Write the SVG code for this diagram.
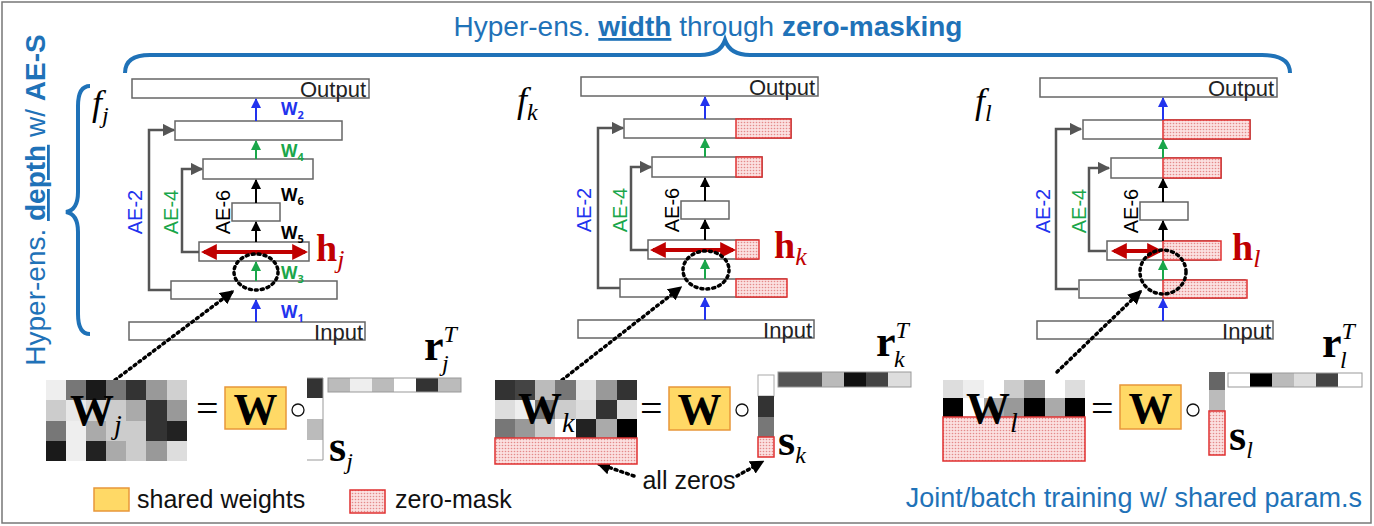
<svg xmlns="http://www.w3.org/2000/svg" width="1374" height="526" viewBox="0 0 1374 526">
<defs>
<pattern id="dots" width="3" height="3" patternUnits="userSpaceOnUse"><rect width="3" height="3" fill="#fbe0e0"/><circle cx="1.5" cy="1.5" r="0.8" fill="#e48a8a"/></pattern>
<marker id="ab" viewBox="0 0 10 10" refX="9" refY="5" markerWidth="5" markerHeight="5" orient="auto-start-reverse"><path d="M0,0L10,5L0,10z" fill="#2233ee"/></marker>
<marker id="ag" viewBox="0 0 10 10" refX="9" refY="5" markerWidth="5" markerHeight="5" orient="auto-start-reverse"><path d="M0,0L10,5L0,10z" fill="#1aa64a"/></marker>
<marker id="ak" viewBox="0 0 10 10" refX="9" refY="5" markerWidth="5" markerHeight="5" orient="auto-start-reverse"><path d="M0,0L10,5L0,10z" fill="#000"/></marker>
<marker id="agr" viewBox="0 0 10 10" refX="9" refY="5" markerWidth="5" markerHeight="5" orient="auto-start-reverse"><path d="M0,0L10,5L0,10z" fill="#555"/></marker>
<marker id="ar" viewBox="0 0 10 10" refX="8" refY="5" markerWidth="4" markerHeight="4" orient="auto-start-reverse"><path d="M0,0L10,5L0,10z" fill="#c00000"/></marker>
<marker id="ad" viewBox="0 0 10 10" refX="8" refY="5" markerWidth="4" markerHeight="4" orient="auto-start-reverse"><path d="M0,0L10,5L0,10z" fill="#000"/></marker>
</defs>
<style>
.ly{fill:#fff;stroke:#666;stroke-width:1.5}
.mk{fill:url(#dots);stroke:#e03030;stroke-width:1.5}
.lt{font-family:"Liberation Sans",Arial,sans-serif;font-size:22px;fill:#222;text-anchor:end}
.wl{font-family:"Open Sans",sans-serif;font-weight:bold;font-size:17px}
.ae{font-family:"Liberation Sans",Arial,sans-serif;font-size:20px}
.fn{font-family:"Liberation Serif",serif;font-style:italic;font-size:36px}
.hb{font-family:"Liberation Serif",serif;font-weight:bold;font-size:38px;fill:#c00000}
.mb{font-family:"Liberation Serif",serif;font-weight:bold;font-size:44px}
.it{font-style:italic;font-weight:normal}
.sk{stroke:#555;stroke-width:2.5;fill:none}
.dt{stroke:#000;stroke-width:3.5;stroke-dasharray:2,4;fill:none;stroke-linecap:round}
.bl{font-family:"Liberation Sans",Arial,sans-serif;fill:#1f72b8}
.yb{fill:#ffd966;stroke:#e8973a;stroke-width:1.5}
.tx{font-family:"Liberation Sans",Arial,sans-serif;font-size:25px;fill:#111}
</style>
<rect x="2" y="2" width="1369" height="521" fill="#fff" stroke="#777" stroke-width="1.5"/>

<g id="title">
<text class="bl" x="708" y="36" font-size="28" text-anchor="middle">Hyper-ens. <tspan font-weight="bold" text-decoration="underline">width</tspan> through <tspan font-weight="bold">zero-masking</tspan></text>
<path d="M125,73 Q125,55 150,55 L700,55 Q720,55 725,40 Q730,55 750,55 L1262,55 Q1290,55 1290,73" fill="none" stroke="#1f72b8" stroke-width="4"/>
<text class="bl" transform="translate(45,200) rotate(-90)" font-size="28" text-anchor="middle">Hyper-ens. <tspan font-weight="bold" text-decoration="underline">depth</tspan> w/ <tspan font-weight="bold">AE-S</tspan></text>
<path d="M90,86 Q78,86 78,106 L78,192 Q78,210 66,212 Q78,214 78,232 L78,314 Q78,334 90,334" fill="none" stroke="#1f72b8" stroke-width="4"/>
</g>

<g id="net-j">
<rect class="ly" x="132" y="79" width="237" height="19"/><text class="lt" x="366" y="97">Output</text>
<rect class="ly" x="175" y="121" width="167" height="19"/>
<rect class="ly" x="203" y="159" width="110" height="20"/>
<rect class="ly" x="232" y="203" width="48" height="18"/>
<rect class="ly" x="199" y="242" width="110" height="19"/>
<rect class="ly" x="171" y="281" width="166" height="18"/>
<rect class="ly" x="129" y="322" width="236" height="18"/><text class="lt" x="363" y="340">Input</text>
</g>
<g id="net-k" transform="translate(449,-2)">
<rect class="ly" x="132" y="79" width="237" height="19"/><text class="lt" x="366" y="97">Output</text>
<rect class="ly" x="175" y="121" width="167" height="19"/><rect class="mk" x="287" y="121" width="55" height="19"/>
<rect class="ly" x="203" y="159" width="110" height="20"/><rect class="mk" x="287" y="159" width="26" height="20"/>
<rect class="ly" x="232" y="203" width="48" height="18"/>
<rect class="ly" x="199" y="242" width="110" height="19"/><rect class="mk" x="287" y="242" width="23" height="19"/>
<rect class="ly" x="171" y="281" width="166" height="18"/><rect class="mk" x="287" y="281" width="51" height="18"/>
<rect class="ly" x="129" y="322" width="236" height="18"/><text class="lt" x="363" y="340">Input</text>
</g>
<g id="net-l" transform="translate(908,-1)">
<rect class="ly" x="132" y="79" width="237" height="19"/><text class="lt" x="366" y="97">Output</text>
<rect class="ly" x="175" y="121" width="167" height="19"/><rect class="mk" x="255" y="121" width="87" height="19"/>
<rect class="ly" x="203" y="159" width="110" height="20"/><rect class="mk" x="255" y="159" width="58" height="20"/>
<rect class="ly" x="232" y="203" width="48" height="18"/>
<rect class="ly" x="199" y="242" width="110" height="19"/><rect class="mk" x="255" y="242" width="58" height="19"/>
<rect class="ly" x="171" y="281" width="166" height="18"/><rect class="mk" x="255" y="281" width="84" height="18"/>
<rect class="ly" x="129" y="322" width="236" height="18"/><text class="lt" x="363" y="340">Input</text>
</g>

<g id="labels">
<text class="fn" x="92" y="115">f<tspan font-size="24" dy="8">j</tspan></text>
<text class="fn" x="517" y="112">f<tspan font-size="24" dy="8">k</tspan></text>
<text class="fn" x="975" y="113">f<tspan font-size="24" dy="8">l</tspan></text>
<text class="wl" x="281" y="115" fill="#2233ee">W<tspan font-size="11" dy="4">2</tspan></text>
<text class="wl" x="281" y="157" fill="#1aa64a">W<tspan font-size="11" dy="4">4</tspan></text>
<text class="wl" x="281" y="201" fill="#000">W<tspan font-size="11" dy="4">6</tspan></text>
<text class="wl" x="281" y="239" fill="#000">W<tspan font-size="11" dy="4">5</tspan></text>
<text class="wl" x="281" y="279" fill="#1aa64a">W<tspan font-size="11" dy="4">3</tspan></text>
<text class="wl" x="281" y="318" fill="#2233ee">W<tspan font-size="11" dy="4">1</tspan></text>
<text class="hb" x="316" y="261">h<tspan class="it" font-size="26" dy="7">j</tspan></text>
<text class="hb" x="774" y="258">h<tspan class="it" font-size="26" dy="7">k</tspan></text>
<text class="hb" x="1232" y="260">h<tspan class="it" font-size="26" dy="7">l</tspan></text>
<g class="ae">
<text transform="translate(142,212) rotate(-90)" text-anchor="middle" fill="#2233ee">AE-2</text>
<text transform="translate(178,212) rotate(-90)" text-anchor="middle" fill="#1aa64a">AE-4</text>
<text transform="translate(230,212) rotate(-90)" text-anchor="middle" fill="#000">AE-6</text>
<text transform="translate(591,210) rotate(-90)" text-anchor="middle" fill="#2233ee">AE-2</text>
<text transform="translate(627,210) rotate(-90)" text-anchor="middle" fill="#1aa64a">AE-4</text>
<text transform="translate(679,210) rotate(-90)" text-anchor="middle" fill="#000">AE-6</text>
<text transform="translate(1050,211) rotate(-90)" text-anchor="middle" fill="#2233ee">AE-2</text>
<text transform="translate(1086,211) rotate(-90)" text-anchor="middle" fill="#1aa64a">AE-4</text>
<text transform="translate(1138,211) rotate(-90)" text-anchor="middle" fill="#000">AE-6</text>
</g>
</g>

<g id="connectors">
<g id="cj">
<line x1="256" y1="322" x2="256" y2="300" stroke="#2233ee" stroke-width="2" marker-end="url(#ab)"/>
<line x1="256" y1="281" x2="256" y2="262" stroke="#1aa64a" stroke-width="2" marker-end="url(#ag)"/>
<line x1="256" y1="242" x2="256" y2="222" stroke="#000" stroke-width="2" marker-end="url(#ak)"/>
<line x1="256" y1="203" x2="256" y2="180" stroke="#000" stroke-width="2" marker-end="url(#ak)"/>
<line x1="256" y1="159" x2="256" y2="141" stroke="#1aa64a" stroke-width="2" marker-end="url(#ag)"/>
<line x1="256" y1="121" x2="256" y2="99" stroke="#2233ee" stroke-width="2" marker-end="url(#ab)"/>
<path class="sk" d="M171,290 H149 V130 H174" marker-end="url(#agr)"/>
<path class="sk" d="M199,252 H182 V169 H202" marker-end="url(#agr)"/>
</g>
<use href="#cj" transform="translate(449,-2)"/>
<use href="#cj" transform="translate(907,-1)"/>
<line x1="204" y1="252" x2="305" y2="252" stroke="#c00000" stroke-width="4" marker-start="url(#ar)" marker-end="url(#ar)"/>
<line x1="653" y1="250" x2="733" y2="250" stroke="#c00000" stroke-width="4" marker-start="url(#ar)" marker-end="url(#ar)"/>
<line x1="1114" y1="251" x2="1160" y2="251" stroke="#c00000" stroke-width="4" marker-start="url(#ar)" marker-end="url(#ar)"/>
<ellipse class="dt" cx="256" cy="272" rx="22" ry="18"/>
<ellipse class="dt" cx="706" cy="270" rx="23" ry="19"/>
<ellipse class="dt" cx="1163" cy="272" rx="23" ry="22"/>
<path class="dt" d="M115,380 L232,292" marker-end="url(#ad)"/>
<path class="dt" d="M562,380 L680,288" marker-end="url(#ad)"/>
<path class="dt" d="M1057,372 L1140,292" marker-end="url(#ad)"/>
<path class="dt" d="M634,476 L599,464" marker-end="url(#ad)"/>
<path class="dt" d="M737,476 L762,462" marker-end="url(#ad)"/>
</g>

<g id="eq-j">
<rect x="46" y="380" width="20" height="20" fill="#eee"/><rect x="66" y="380" width="20" height="20" fill="#777"/><rect x="86" y="380" width="20" height="20" fill="#1a1a1a"/><rect x="106" y="380" width="20" height="20" fill="#777"/><rect x="126" y="380" width="20" height="20" fill="#333"/><rect x="146" y="380" width="21" height="20" fill="#999"/><rect x="167" y="380" width="20" height="20" fill="#d0d0d0"/>
<rect x="46" y="400" width="20" height="21" fill="#ccc"/><rect x="66" y="400" width="20" height="21" fill="#e8e8e8"/><rect x="86" y="400" width="20" height="21" fill="#d4d4d4"/><rect x="106" y="400" width="20" height="21" fill="#ccc"/><rect x="126" y="400" width="20" height="21" fill="#aaa"/><rect x="146" y="400" width="21" height="21" fill="#333"/><rect x="167" y="400" width="20" height="21" fill="#999"/>
<rect x="46" y="421" width="20" height="20" fill="#777"/><rect x="66" y="421" width="20" height="20" fill="#eee"/><rect x="86" y="421" width="20" height="20" fill="#aaa"/><rect x="106" y="421" width="20" height="20" fill="#ccc"/><rect x="126" y="421" width="20" height="20" fill="#ccc"/><rect x="146" y="421" width="21" height="20" fill="#333"/><rect x="167" y="421" width="20" height="20" fill="#222"/>
<rect x="46" y="441" width="20" height="20" fill="#1a1a1a"/><rect x="66" y="441" width="20" height="20" fill="#eee"/><rect x="86" y="441" width="20" height="20" fill="#222"/><rect x="106" y="441" width="20" height="20" fill="#aaa"/><rect x="126" y="441" width="20" height="20" fill="#ccc"/><rect x="146" y="441" width="21" height="20" fill="#999"/><rect x="167" y="441" width="20" height="20" fill="#ddd"/>
<text class="mb" x="70" y="425">W<tspan class="it" font-size="28" dy="9">j</tspan></text>
<text x="196" y="422" font-family="Liberation Serif,serif" font-size="40">=</text>
<rect class="yb" x="225" y="387" width="61" height="42"/><text class="mb" x="255.5" y="424" text-anchor="middle">W</text>
<circle cx="298" cy="410" r="6" fill="none" stroke="#111" stroke-width="1.3"/>
<rect x="307" y="378" width="16" height="20" fill="#333"/><rect x="307" y="398" width="16" height="21" fill="#fff"/><rect x="307" y="419" width="16" height="21" fill="#bbb"/><rect x="307" y="440" width="16" height="20" fill="#fff"/>
<path d="M307,378 H323 V460 H307" fill="none" stroke="#999" stroke-width="1"/>
<rect x="328" y="378" width="22" height="14" fill="#bbb"/><rect x="350" y="378" width="22" height="14" fill="#eee"/><rect x="372" y="378" width="22" height="14" fill="#bbb"/><rect x="394" y="378" width="22" height="14" fill="#fff"/><rect x="416" y="378" width="22" height="14" fill="#333"/><rect x="438" y="378" width="23" height="14" fill="#bbb"/>
<rect x="328" y="378" width="133" height="14" fill="none" stroke="#999" stroke-width="1"/>
<text class="mb" x="424" y="360" font-size="38">r<tspan class="it" font-size="24" dy="-18">T</tspan><tspan class="it" font-size="24" dx="-15" dy="29">j</tspan></text>
<text class="mb" x="329" y="461" font-size="38">s<tspan class="it" font-size="24" dy="8">j</tspan></text>
</g>

<g id="eq-k">
<rect x="495" y="380" width="20" height="20" fill="#333"/><rect x="515" y="380" width="20" height="20" fill="#444"/><rect x="535" y="380" width="20" height="20" fill="#bbb"/><rect x="555" y="380" width="21" height="20" fill="#777"/><rect x="576" y="380" width="20" height="20" fill="#e4e4e4"/><rect x="596" y="380" width="21" height="20" fill="#999"/><rect x="617" y="380" width="20" height="20" fill="#333"/>
<rect x="495" y="400" width="20" height="19" fill="#ddd"/><rect x="515" y="400" width="20" height="19" fill="#eee"/><rect x="535" y="400" width="20" height="19" fill="#777"/><rect x="555" y="400" width="21" height="19" fill="#ccc"/><rect x="576" y="400" width="20" height="19" fill="#ddd"/><rect x="596" y="400" width="21" height="19" fill="#333"/><rect x="617" y="400" width="20" height="19" fill="#ddd"/>
<rect x="495" y="419" width="20" height="19" fill="#777"/><rect x="515" y="419" width="20" height="19" fill="#999"/><rect x="535" y="419" width="20" height="19" fill="#ccc"/><rect x="555" y="419" width="21" height="19" fill="#fff"/><rect x="576" y="419" width="20" height="19" fill="#222"/><rect x="596" y="419" width="21" height="19" fill="#aaa"/><rect x="617" y="419" width="20" height="19" fill="#000"/>
<rect class="mk" x="495" y="438" width="142" height="26"/>
<text class="mb" x="518" y="423">W<tspan class="it" font-size="28" dy="9">k</tspan></text>
<text x="640" y="422" font-family="Liberation Serif,serif" font-size="40">=</text>
<rect class="yb" x="669" y="387" width="61" height="43"/><text class="mb" x="699.5" y="424" text-anchor="middle">W</text>
<circle cx="742" cy="410" r="6" fill="none" stroke="#111" stroke-width="1.3"/>
<rect x="758" y="375" width="16" height="21" fill="#fff" stroke="#aaa" stroke-width="1"/><rect x="758" y="396" width="16" height="21" fill="#333"/><rect x="758" y="417" width="16" height="20" fill="#777"/><rect class="mk" x="758" y="437" width="16" height="20"/>
<rect x="778" y="372" width="22" height="15" fill="#555"/><rect x="800" y="372" width="22" height="15" fill="#555"/><rect x="822" y="372" width="22" height="15" fill="#bbb"/><rect x="844" y="372" width="22" height="15" fill="#111"/><rect x="866" y="372" width="22" height="15" fill="#444"/><rect x="888" y="372" width="23" height="15" fill="#ddd"/>
<rect x="778" y="372" width="133" height="15" fill="none" stroke="#999" stroke-width="1"/>
<text class="mb" x="876" y="356" font-size="38">r<tspan class="it" font-size="24" dy="-18">T</tspan><tspan class="it" font-size="24" dx="-15" dy="29">k</tspan></text>
<text class="mb" x="778" y="455" font-size="38">s<tspan class="it" font-size="24" dy="8">k</tspan></text>
<text class="tx" x="689" y="489" text-anchor="middle">all zeros</text>
</g>

<g id="eq-l">
<rect x="943" y="380" width="20" height="18" fill="#ddd"/><rect x="963" y="380" width="21" height="18" fill="#eee"/><rect x="984" y="380" width="20" height="18" fill="#fff"/><rect x="1004" y="380" width="20" height="18" fill="#ccc"/><rect x="1024" y="380" width="21" height="18" fill="#999"/><rect x="1045" y="380" width="20" height="18" fill="#fff"/><rect x="1065" y="380" width="20" height="18" fill="#ddd"/>
<rect x="943" y="398" width="20" height="19" fill="#000"/><rect x="963" y="398" width="21" height="19" fill="#fff"/><rect x="984" y="398" width="20" height="19" fill="#aaa"/><rect x="1004" y="398" width="20" height="19" fill="#999"/><rect x="1024" y="398" width="21" height="19" fill="#000"/><rect x="1045" y="398" width="20" height="19" fill="#aaa"/><rect x="1065" y="398" width="20" height="19" fill="#000"/>
<rect class="mk" x="943" y="417" width="142" height="44"/>
<text class="mb" x="966" y="423">W<tspan class="it" font-size="28" dy="9">l</tspan></text>
<text x="1091" y="422" font-family="Liberation Serif,serif" font-size="40">=</text>
<rect class="yb" x="1120" y="385" width="61" height="44"/><text class="mb" x="1150.5" y="423" text-anchor="middle">W</text>
<circle cx="1193" cy="410" r="6" fill="none" stroke="#111" stroke-width="1.3"/>
<rect x="1209" y="372" width="16" height="18" fill="#666"/><rect x="1209" y="390" width="16" height="21" fill="#bbb"/><rect class="mk" x="1209" y="411" width="16" height="44"/>
<rect x="1228" y="373" width="22" height="14" fill="#fff"/><rect x="1250" y="373" width="22" height="14" fill="#000"/><rect x="1272" y="373" width="22" height="14" fill="#bbb"/><rect x="1294" y="373" width="22" height="14" fill="#ddd"/><rect x="1316" y="373" width="22" height="14" fill="#444"/><rect x="1338" y="373" width="24" height="14" fill="#fff"/>
<rect x="1228" y="373" width="134" height="14" fill="none" stroke="#999" stroke-width="1"/>
<text class="mb" x="1322" y="357" font-size="38">r<tspan class="it" font-size="24" dy="-18">T</tspan><tspan class="it" font-size="24" dx="-15" dy="29">l</tspan></text>
<text class="mb" x="1229" y="450" font-size="38">s<tspan class="it" font-size="24" dy="8">l</tspan></text>
</g>

<g id="legend">
<rect class="yb" x="94" y="488" width="35" height="23"/>
<text class="tx" x="137" y="508">shared weights</text>
<rect class="mk" x="350" y="490" width="35" height="23"/>
<text class="tx" x="395" y="508">zero-mask</text>
<text class="bl" x="1362" y="507" font-size="27" text-anchor="end">Joint/batch training w/ shared param.s</text>
</g>
</svg>
